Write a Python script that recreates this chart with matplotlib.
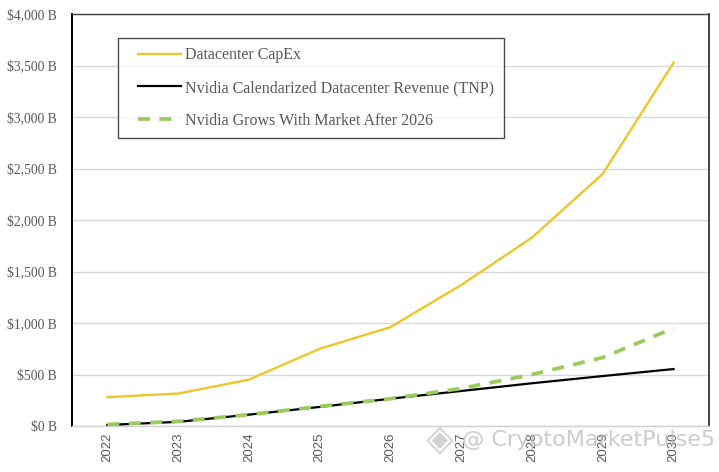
import matplotlib
matplotlib.use("Agg")
import matplotlib.pyplot as plt
from matplotlib.lines import Line2D
from matplotlib.legend_handler import HandlerLine2D
from matplotlib.ticker import FuncFormatter, MultipleLocator

years = ["2022", "2023", "2024", "2025", "2026", "2027", "2028", "2029", "2030"]

capex = [280, 315, 450, 750, 960, 1370, 1830, 2450, 3530]
nvidia_rev = [10, 40, 110, 185, 265, 340, 415, 485, 553]
nvidia_market = [15, 45, 110, 190, 265, 365, 500, 665, 950]

YELLOW = "#EEC52A"
GREEN = "#9ACB5F"
GRAY_TXT = "#595959"

serif = ["Liberation Serif", "DejaVu Serif"]

fig = plt.figure(figsize=(7.19, 4.72), dpi=100)
ax = fig.add_axes([0.1001, 0.0975, 0.886, 0.8725])

x = list(range(len(years)))

ax.plot(x, capex, color=YELLOW, lw=1.7,
        label="Datacenter CapEx", zorder=3)
ax.plot(x, nvidia_rev, color="black", lw=1.6,
        label="Nvidia Calendarized Datacenter Revenue (TNP)", zorder=3)
ax.plot(x, nvidia_market, color=GREEN, lw=2.7, dashes=(3.2, 2.5),
        label="Nvidia Grows With Market After 2026", zorder=4)

ax.set_xlim(-0.5, len(years) - 0.5)
ax.set_ylim(0, 4000)
ax.yaxis.set_major_locator(MultipleLocator(500))
ax.yaxis.set_major_formatter(FuncFormatter(lambda v, p: "${:,.0f} B".format(v)))

ax.set_xticks(x)
ax.set_xticklabels(years, rotation=90, family=["Liberation Sans", "DejaVu Sans"],
                   fontsize=9.5, color=GRAY_TXT)
for lab in ax.get_yticklabels():
    lab.set_family(serif)
    lab.set_fontsize(9.8)
    lab.set_color(GRAY_TXT)

ax.tick_params(axis="both", length=0)
ax.tick_params(axis="y", pad=11)
ax.tick_params(axis="x", pad=5)

ax.grid(axis="y", color="#D9D9D9", lw=1.0, zorder=0)
ax.set_axisbelow(True)

ax.spines["left"].set_color("black")
ax.spines["left"].set_linewidth(1.4)
ax.spines["right"].set_color("#222222")
ax.spines["right"].set_linewidth(1.2)
ax.spines["top"].set_color("#444444")
ax.spines["top"].set_linewidth(1.0)
ax.spines["bottom"].set_color("#D0D0D0")
ax.spines["bottom"].set_linewidth(1.0)

leg = ax.legend(loc="upper left", bbox_to_anchor=(0.0716, 0.943),
                prop={"family": serif, "size": 11.5},
                frameon=True, fancybox=False, edgecolor="#222222",
                handlelength=3.4, handletextpad=0.25, labelspacing=1.05,
                borderpad=0.6, borderaxespad=0,
                handler_map={Line2D: HandlerLine2D(xpad=0.7)})
leg.get_frame().set_linewidth(1.0)
for t in leg.get_texts():
    t.set_color(GRAY_TXT)

# watermark overlay seen on the source image
fig.text(0.612, 0.068, "\u25C8", fontsize=26,
         color="#C4C4C4", alpha=0.75, ha="center", va="center",
         family=["DejaVu Sans"], zorder=10)
fig.text(0.994, 0.068, "@ CryptoMarketPulse5", fontsize=16,
         color="#BBBBBB", alpha=0.75, ha="right", va="center",
         family=["DejaVu Sans"], zorder=10)

fig.savefig("out.png", dpi=100)
